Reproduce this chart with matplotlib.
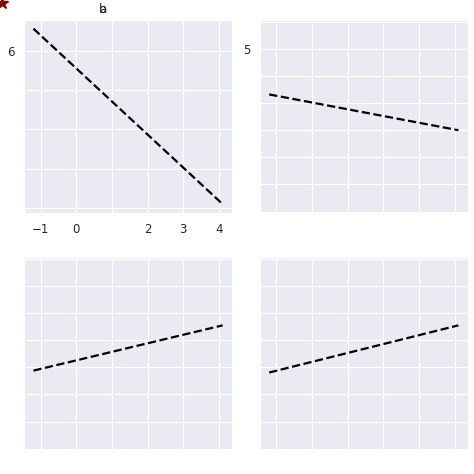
import matplotlib
matplotlib.use("Agg")
import matplotlib.pyplot as plt
from matplotlib.lines import Line2D
import seaborn as sns

# Values
x_vals = [-1.2, 4.1]
y_top_left = [6.56, 2.1]
y_top_right = [3.32, 2.0]
y_bottom_left = [1.88, 3.55]
y_bottom_right = [1.81, 3.55]

x_ticks = [-1, 0, 1, 2, 3, 4]
x_tick_labels = ["\u22121", "0", "", "2", "3", "4"]
y_ticks_left = [2, 3, 4, 5, 6]
y_tick_labels_left = ["", "", "", "", "6"]
y_ticks_other = [-1, 0, 1, 2, 3, 4, 5, 6]
y_tick_labels_right = ["", "", "", "", "", "", "5", ""]
shared_ylim = (-1.05, 6.07)

sns.set_style("darkgrid")
plt.rcParams['font.family'] = ['DejaVu Sans']

fig, axes = plt.subplots(2, 2, figsize=(4.74, 4.74), dpi=100)
plt.subplots_adjust(left=0.0506, right=0.987, bottom=0.0506, top=0.958,
                    wspace=0.133, hspace=0.229)

series = [y_top_left, y_top_right, y_bottom_left, y_bottom_right]
for ax, ys in zip(axes.flat, series):
    ax.plot(x_vals, ys, 'k--', linewidth=1.6)
    ax.set_xticks(x_ticks)
    ax.set_xticklabels([""] * len(x_ticks))
    ax.tick_params(labelsize=8.5, colors="#262626")

# top left keeps its own y scale
ax = axes[0, 0]
ax.set_yticks(y_ticks_left)
ax.set_yticklabels(y_tick_labels_left)
ax.set_xticklabels(x_tick_labels)
ax.text(0.38, 1.02, "a", transform=ax.transAxes, fontsize=8.5,
        ha="center", va="bottom", color="#262626")
ax.text(0.38, 1.02, "b", transform=ax.transAxes, fontsize=8.5,
        ha="center", va="bottom", color="#262626")

for ax in [axes[0, 1], axes[1, 0], axes[1, 1]]:
    ax.set_ylim(*shared_ylim)
    ax.set_yticks(y_ticks_other)
    ax.set_yticklabels([""] * len(y_ticks_other))
axes[0, 1].set_yticklabels(y_tick_labels_right)

# small red marker in the corner
fig.add_artist(Line2D([0.005], [0.993], marker="*", markersize=9,
                      color="#8b0000", transform=fig.transFigure))

plt.savefig("out.png")
